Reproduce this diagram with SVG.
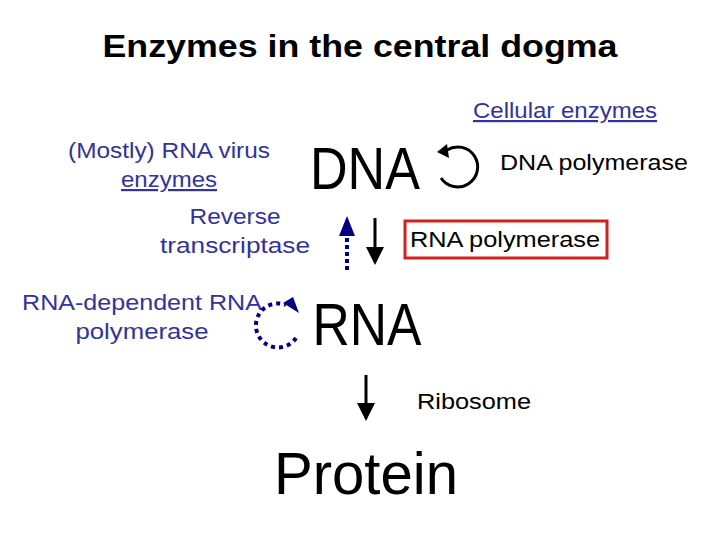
<svg xmlns="http://www.w3.org/2000/svg" width="720" height="540" viewBox="0 0 720 540">
<style>
text{font-family:"Liberation Sans",Arial,sans-serif;text-anchor:middle}
.b{fill:#333399;font-size:22px}
.k{fill:#000;font-size:22px}
.big{font-size:60px;fill:#000}
</style>
<defs>
<marker id="ak" markerWidth="6" markerHeight="6" refX="5" refY="3" orient="auto" markerUnits="strokeWidth"><path d="M0,0L6,3L0,6z" fill="#000"/></marker>
</defs>
<rect width="720" height="540" fill="#fff"/>
<text x="360" y="57" font-size="32" font-weight="bold" fill="#000" textLength="515" lengthAdjust="spacingAndGlyphs">Enzymes in the central dogma</text>
<g id="cellular"><text x="565" y="118" class="b" text-decoration="underline" textLength="184" lengthAdjust="spacingAndGlyphs">Cellular enzymes</text></g>
<g id="virus"><text x="169" y="158" class="b" textLength="202" lengthAdjust="spacingAndGlyphs">(Mostly) RNA virus</text><text x="169" y="187" class="b" text-decoration="underline" textLength="96" lengthAdjust="spacingAndGlyphs">enzymes</text></g>
<g id="dna"><text x="365" y="189" class="big" textLength="110" lengthAdjust="spacingAndGlyphs">DNA</text></g>
<g id="rna"><text x="367" y="345" class="big" textLength="109" lengthAdjust="spacingAndGlyphs">RNA</text></g>
<g id="protein"><text x="366" y="494" class="big" textLength="184" lengthAdjust="spacingAndGlyphs">Protein</text></g>
<g id="dnapol"><text x="594" y="170" class="k" textLength="188" lengthAdjust="spacingAndGlyphs">DNA polymerase</text></g>
<g id="rnapol"><rect x="405" y="221" width="202" height="37" fill="none" stroke="#d02020" stroke-width="3"/><text x="505" y="247" class="k" textLength="190" lengthAdjust="spacingAndGlyphs">RNA polymerase</text></g>
<g id="rt"><text x="235" y="224" class="b" textLength="91" lengthAdjust="spacingAndGlyphs">Reverse</text><text x="235" y="253" class="b" textLength="150" lengthAdjust="spacingAndGlyphs">transcriptase</text></g>
<g id="rdrp"><text x="142" y="310" class="b" textLength="240" lengthAdjust="spacingAndGlyphs">RNA-dependent RNA</text><text x="142" y="339" class="b" textLength="133" lengthAdjust="spacingAndGlyphs">polymerase</text></g>
<g id="ribo"><text x="474" y="409" class="k" textLength="114" lengthAdjust="spacingAndGlyphs">Ribosome</text></g>
<g id="connectors" fill="none">
<path d="M447,150 A20,20 0 1 1 441,178" stroke="#000" stroke-width="3"/>
<path d="M447,144 L437,152 L449,158 z" fill="#000"/>
<line x1="375" y1="218" x2="375" y2="262" stroke="#000" stroke-width="3" marker-end="url(#ak)"/>
<line x1="347" y1="270" x2="347" y2="232" stroke="#000080" stroke-width="4" stroke-dasharray="4,3"/>
<path d="M339,236 L347,216 L355,236 z" fill="#000080"/>
<path d="M296,338 A22,22 0 1 1 286,305" stroke="#000080" stroke-width="4" stroke-dasharray="4,4"/>
<path d="M283,303 L299,313 L293,297 z" fill="#000080"/>
<line x1="366" y1="375" x2="366" y2="418" stroke="#000" stroke-width="3" marker-end="url(#ak)"/>
</g>
</svg>
